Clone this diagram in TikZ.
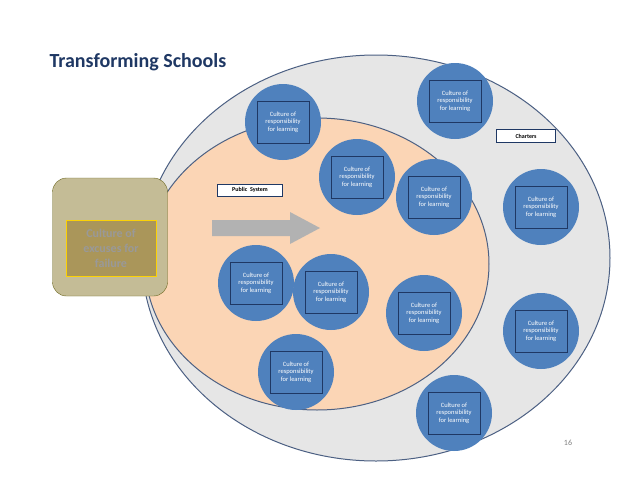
\documentclass[tikz,border=0pt]{standalone}
\usepackage{fontspec}
\setmainfont{Carlito}
\begin{document}
\begin{tikzpicture}[x=1pt,y=-1pt,
  circ/.style={circle,fill=circblue,minimum size=76pt,inner sep=0pt},
  sq/.style={draw=navy,line width=0.9pt,minimum width=52pt,minimum height=42pt,text=white,font=\fontsize{6.5}{7.5}\selectfont,align=center,inner sep=1pt},
  lbl/.style={draw=navy,fill=white,font=\bfseries\fontsize{6}{7}\selectfont,inner sep=1pt}]
\definecolor{circblue}{RGB}{79,129,189}
\definecolor{navy}{RGB}{31,56,100}
\definecolor{peach}{RGB}{251,213,181}
\definecolor{lgray}{RGB}{230,230,230}
\definecolor{tan}{RGB}{196,188,150}
\definecolor{dtan}{RGB}{170,150,90}
\useasboundingbox (0,0) rectangle (638,493);
\fill[white] (0,0) rectangle (638,493);
\draw[fill=lgray,draw=navy!80,line width=1pt] (376,258) ellipse [x radius=234,y radius=203];
\draw[fill=peach,draw=navy!80,line width=1pt] (317,264) ellipse [x radius=172,y radius=146];
\node[anchor=west,text=navy,font=\bfseries\fontsize{20}{24}\selectfont] (title) at (46,62) {Transforming Schools};
\node[draw=olive!70!black,fill=tan,rounded corners=14pt,minimum width=115pt,minimum height=118pt] (lb) at (110,237) {};
\node[draw=yellow!70!orange,line width=1pt,fill=dtan,minimum width=90pt,minimum height=56pt,align=center,text=gray!80,font=\bfseries\fontsize{12}{15}\selectfont] (ex) at (111,248) {Culture of\\excuses for\\failure};
\node[lbl,minimum width=65pt,minimum height=12pt] (ps) at (250,190) {Public\ \ System};
\node[lbl,minimum width=59pt,minimum height=13pt] (ch) at (526,136) {Charters};
\fill[gray!60] (212,220) -- (290,220) -- (290,212) -- (320,228) -- (290,244) -- (290,236) -- (212,236) -- cycle;
\foreach \n/\x/\y in {a/283/122,b/455/101,c/357/177,d/434/197,e/541/207,f/256/283,g/331/292,h/424/313,i/541/331,j/296/372,k/454/413}{
  \node[circ] (c\n) at (\x,\y) {};
  \node[sq] (s\n) at (\x,\y) {Culture of\\responsibility\\for learning};
}
\node[text=gray,font=\fontsize{8}{9}\selectfont] (pg) at (568,443) {16};
\end{tikzpicture}
\end{document}
